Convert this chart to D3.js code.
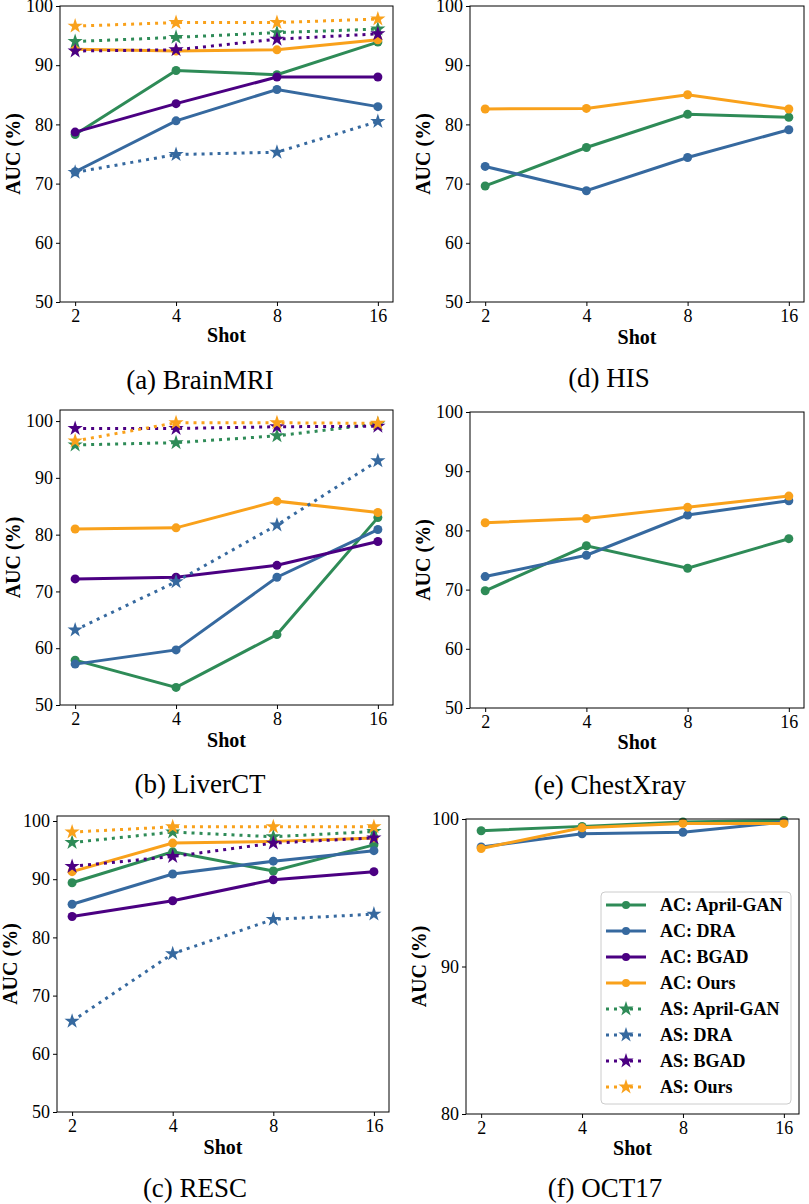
<!DOCTYPE html>
<html>
<head>
<meta charset="utf-8">
<script src="https://cdn.jsdelivr.net/npm/d3@7"></script>
<style>
  body { margin: 0; background: #fff; }
  svg { display: block; }
  text { font-family: "Liberation Serif", "Times New Roman", serif; fill: #000; }
</style>
</head>
<body>
<svg id="chart" width="809" height="1204"></svg>
<script>
// x 軸（ショット数）
var shots = [2, 4, 8, 16];
var shotLabels = ["2", "4", "8", "16"];
var methods = ["April-GAN", "DRA", "BGAD", "Ours"];

// AC（分類）と AS（セグメンテーション）の AUC 値。順番は methods と同じ
var brainAC = [[78.3, 89.1, 88.4, 93.9], [72.0, 80.6, 85.9, 83.0], [78.7, 83.5, 88.0, 88.0], [92.7, 92.4, 92.6, 94.3]];
var brainAS = [[94.0, 94.7, 95.5, 96.1], [71.9, 74.9, 75.3, 80.5], [92.4, 92.6, 94.4, 95.3], [96.6, 97.2, 97.2, 97.8]];
var liverAC = [[57.9, 53.1, 62.4, 83.0], [57.2, 59.7, 72.5, 80.9], [72.2, 72.5, 74.6, 78.8], [81.0, 81.2, 85.9, 83.9]];
var liverAS = [[95.8, 96.2, 97.4, 99.5], [63.2, 71.7, 81.7, 93.0], [98.7, 98.7, 99.0, 99.1], [96.5, 99.7, 99.7, 99.6]];
var rescAC = [[89.4, 94.7, 91.4, 95.9], [85.7, 90.9, 93.1, 94.9], [83.6, 86.3, 89.9, 91.3], [91.3, 96.2, 96.5, 97.1]];
var rescAS = [[96.3, 98.1, 97.3, 98.2], [65.6, 77.2, 83.1, 84.0], [92.2, 93.9, 96.2, 97.1], [98.1, 99.0, 99.0, 99.0]];
var hisAC = [[69.6, 76.1, 81.7, 81.2], [72.9, 68.8, 74.4, 79.1], null, [82.6, 82.7, 85.0, 82.6]];
var chestAC = [[69.8, 77.4, 73.6, 78.6], [72.2, 75.8, 82.6, 85.0], null, [81.3, 82.0, 83.9, 85.8]];
var octAC = [[99.2, 99.5, 99.8, 99.9], [98.1, 99.0, 99.1, 99.8], null, [98.0, 99.4, 99.7, 99.7]];

var yTicks50 = [50, 60, 70, 80, 90, 100];
var yTicks80 = [80, 90, 100];

var colors = ["#2e8b57", "#36699f", "#4b0082", "#f9a11b"];
var serif = "'Liberation Serif', 'Times New Roman', serif";

// パネルの配置
var panels = [
	{ ac: brainAC, as: brainAS, cap: "(a) BrainMRI", l: 60, r: 393, t: 6, b: 302, y: [50, 100], ticks: yTicks50, shotY: 335, capY: 380, capX: 200 },
	{ ac: liverAC, as: liverAS, cap: "(b) LiverCT", l: 60, r: 393, t: 410, b: 705, y: [50, 101.95], ticks: yTicks50, shotY: 740, capY: 784, capX: 200 },
	{ ac: rescAC, as: rescAS, cap: "(c) RESC", l: 57, r: 389, t: 816, b: 1112, y: [50, 100.86], ticks: yTicks50, shotY: 1147, capY: 1188, capX: 195 },
	{ ac: hisAC, as: null, cap: "(d) HIS", l: 470, r: 804, t: 6, b: 302, y: [50, 100], ticks: yTicks50, shotY: 337, capY: 378, capX: 609 },
	{ ac: chestAC, as: null, cap: "(e) ChestXray", l: 470, r: 804, t: 412, b: 708, y: [50, 100], ticks: yTicks50, shotY: 742, capY: 785, capX: 610 },
	{ ac: octAC, as: null, cap: "(f) OCT17", l: 466, r: 799, t: 819, b: 1114, y: [80, 100], ticks: yTicks80, shotY: 1148, capY: 1188, capX: 605, legend: true }
];

var svg = d3.select("#chart");
var star = d3.symbol().type(d3.symbolStar).size(72);

panels.forEach(function(p){
	var pad = Math.pow(2, 0.15);	// matplotlib の 5% マージン
	var x = d3.scaleLog().base(2).domain([2 / pad, 16 * pad]).range([p.l, p.r]);
	var y = d3.scaleLinear().domain(p.y).range([p.b, p.t]);
	var g = svg.append("g");

	// 軸
	g.append("g")
		.attr("transform", "translate(0," + p.b + ")")
		.call(d3.axisBottom(x).tickValues(shots).tickFormat(function(d, i){ return shotLabels[i]; }).tickSize(4).tickPadding(3))
		.call(function(a){ a.select(".domain").remove(); })
		.attr("font-family", serif).attr("font-size", 18)
		.selectAll("text").style("font-family", serif).style("font-size", "18px");
	g.append("g")
		.attr("transform", "translate(" + p.l + ",0)")
		.call(d3.axisLeft(y).tickValues(p.ticks).tickSize(4).tickPadding(3))
		.call(function(a){ a.select(".domain").remove(); })
		.attr("font-family", serif).attr("font-size", 18)
		.selectAll("text").style("font-family", serif).style("font-size", "18px");
	g.selectAll(".tick line").attr("stroke", "#000").attr("stroke-width", 1);

	var line = d3.line().defined(function(d){ return d != null; })
		.x(function(d, i){ return x(shots[i]); })
		.y(function(d){ return y(d); });

	// AC（実線＋丸）
	p.ac.forEach(function(vals, k){
		if(!vals) return;
		g.append("path").datum(vals).attr("d", line)
			.attr("fill", "none").attr("stroke", colors[k]).attr("stroke-width", 3);
		g.selectAll(null).data(vals).enter().append("circle")
			.attr("cx", function(d, i){ return x(shots[i]); })
			.attr("cy", function(d){ return y(d); })
			.attr("r", 4.5).attr("fill", colors[k]);
	});
	// AS（点線＋星）
	if(p.as){
		p.as.forEach(function(vals, k){
			g.append("path").datum(vals).attr("d", line)
				.attr("fill", "none").attr("stroke", colors[k]).attr("stroke-width", 3)
				.attr("stroke-dasharray", "3,5");
			g.selectAll(null).data(vals).enter().append("path")
				.attr("d", star)
				.attr("transform", function(d, i){ return "translate(" + x(shots[i]) + "," + y(d) + ")"; })
				.attr("fill", colors[k]);
		});
	}

	// 枠
	g.append("rect").attr("x", p.l).attr("y", p.t).attr("width", p.r - p.l).attr("height", p.b - p.t)
		.attr("fill", "none").attr("stroke", "#000").attr("stroke-width", 1);

	g.append("text").attr("x", (p.l + p.r) / 2).attr("y", p.shotY).attr("dy", "0.35em")
		.attr("text-anchor", "middle").style("font-family", serif).style("font-size", "20px").style("font-weight", "bold").text("Shot");
	g.append("text").attr("transform", "translate(" + (p.l - 47) + "," + ((p.t + p.b) / 2) + ") rotate(-90)")
		.attr("dy", "0.35em").attr("text-anchor", "middle").style("font-family", serif).style("font-size", "20px").style("font-weight", "bold").text("AUC (%)");
	g.append("text").attr("x", p.capX).attr("y", p.capY).attr("dy", "0.35em")
		.attr("text-anchor", "middle").style("font-family", serif).style("font-size", "27px").text(p.cap);

	// 凡例
	if(p.legend){
		var lg = g.append("g");
		lg.append("rect").attr("x", 601).attr("y", 892).attr("width", 190).attr("height", 212)
			.attr("rx", 4).attr("fill", "#fff").attr("fill-opacity", 0.8).attr("stroke", "#ccc");
		var items = [];
		methods.forEach(function(m, k){ items.push({ label: "AC: " + m, k: k, as: false }); });
		methods.forEach(function(m, k){ items.push({ label: "AS: " + m, k: k, as: true }); });
		items.forEach(function(it, i){
			var yy = 905 + i * 26;
			lg.append("line").attr("x1", 606).attr("x2", 646).attr("y1", yy).attr("y2", yy)
				.attr("stroke", colors[it.k]).attr("stroke-width", 3)
				.attr("stroke-dasharray", it.as ? "3,5" : null);
			if(it.as){
				lg.append("path").attr("d", star).attr("transform", "translate(626," + yy + ")").attr("fill", colors[it.k]);
			} else {
				lg.append("circle").attr("cx", 626).attr("cy", yy).attr("r", 4).attr("fill", colors[it.k]);
			}
			lg.append("text").attr("x", 660).attr("y", yy).attr("dy", "0.35em")
				.style("font-family", serif).style("font-size", "18px").style("font-weight", "bold").text(it.label);
		});
	}
});
</script>
</body>
</html>
